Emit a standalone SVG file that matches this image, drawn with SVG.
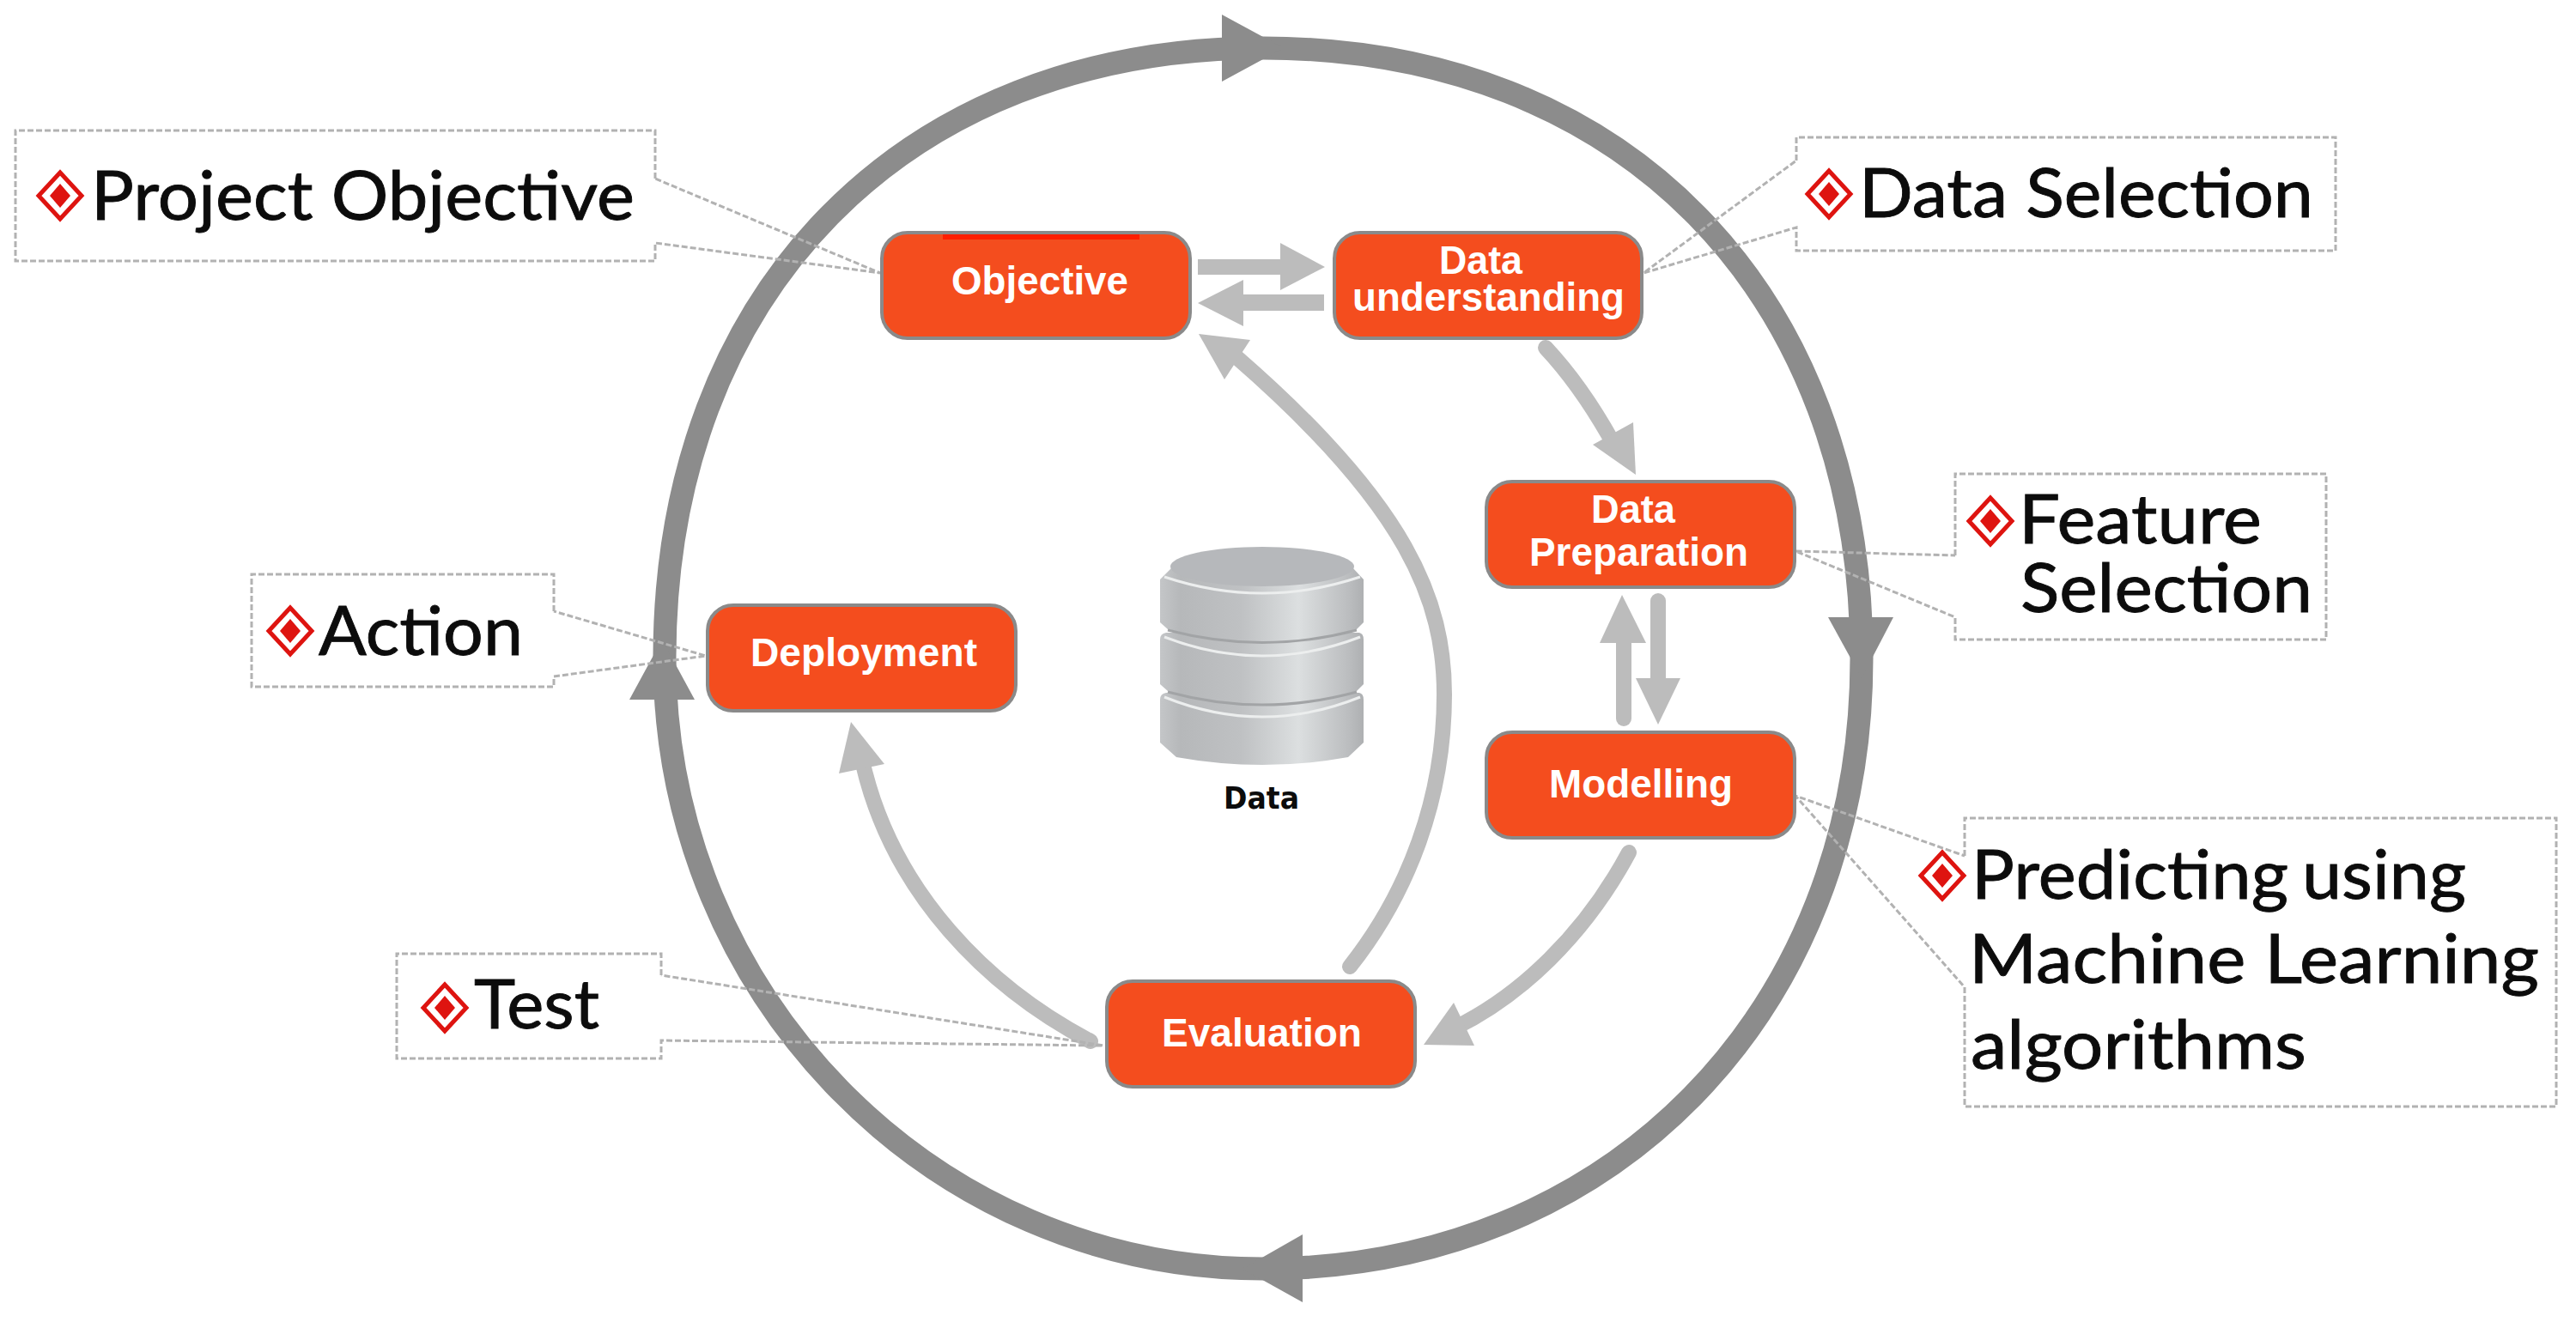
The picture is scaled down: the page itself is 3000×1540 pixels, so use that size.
<svg xmlns="http://www.w3.org/2000/svg" width="3000" height="1540" viewBox="0 0 3000 1540">
<style>
.ring{fill:none;stroke:#8c8c8c;stroke-width:27}
.ringhead{fill:#8c8c8c}
.flow{fill:none;stroke:#bcbcbc;stroke-width:18;stroke-linecap:round}
.flowhead{fill:#bcbcbc}
.lead{fill:none;stroke:#b2b2b2;stroke-width:3;stroke-dasharray:7 3}
.box{fill:#f44d1e;stroke:#8a8a8a;stroke-width:4}
.nl{font-family:"Liberation Sans",Arial,sans-serif;font-weight:700;font-size:47px;fill:#fff}
.cl{font-family:Lato,"Open Sans",sans-serif;font-size:80px;fill:#0c0c0c;stroke:#0c0c0c;stroke-width:.9}
.dt{font-family:"DejaVu Sans",Verdana,sans-serif;font-weight:700;font-size:35px;fill:#0c0c0c}
.band{fill:url(#cyl)}
.hi{fill:none;stroke:#eceeee;stroke-width:3}
.lo{fill:none;stroke:#a2a4a6;stroke-width:3}
</style>
<defs>
<linearGradient id="cyl" x1="0" x2="1" y1="0" y2="0">
<stop offset="0" stop-color="#c4c6c8"/><stop offset="0.1" stop-color="#b6b8ba"/><stop offset="0.4" stop-color="#bfc1c3"/><stop offset="0.68" stop-color="#dcdfe0"/><stop offset="0.92" stop-color="#bcbec0"/><stop offset="1" stop-color="#aeb0b2"/>
</linearGradient>
<g id="dia">
<polygon points="0,-27 25,0 0,27 -25,0" fill="#fff" stroke="#de1410" stroke-width="5"/>
<polygon points="0,-14 12,0 0,14 -12,0" fill="#de1410"/>
</g>
</defs>
<rect width="3000" height="1540" fill="#fff"/>

<g id="connectors">
<path class="ring" d="M1471,56 C1889,56 2168,340 2168,767 C2168,1179 1875,1478 1471,1478 C1086,1478 774,1160 774,767 C774,340 1053,56 1471,56 Z"/>
<polygon class="ringhead" points="1423,17 1495,56 1423,95"/>
<polygon class="ringhead" points="2129,719 2205,719 2168,790"/>
<polygon class="ringhead" points="1517,1438 1517,1517 1447,1478"/>
<polygon class="ringhead" points="733,815 809,815 771,745"/>

<polygon class="flowhead" points="1395,302 1491,302 1491,283 1543,311 1491,338 1491,320 1395,320"/>
<polygon class="flowhead" points="1542,343 1448,343 1448,326 1395,353 1448,380 1448,362 1542,362"/>
<path class="flow" d="M1800,405 Q1842,450 1878,515"/>
<polygon class="flowhead" points="1905,553 1902,492 1855,518"/>
<path class="flow" d="M1891,837 L1891,745"/>
<polygon class="flowhead" points="1889,693 1917,749 1863,749"/>
<path class="flow" d="M1931,700 L1931,795"/>
<polygon class="flowhead" points="1931,844 1905,790 1957,790"/>
<path class="flow" d="M1897,993 C1845,1090 1770,1160 1695,1197"/>
<polygon class="flowhead" points="1658,1217 1693,1168 1717,1218"/>
<path class="flow" d="M1572,1126 C1640,1040 1682,930 1682,809 C1682,700 1640,590 1440,416"/>
<polygon class="flowhead" points="1396,389 1456,396 1426,442"/>
<path class="flow" d="M1270,1213 C1150,1150 1040,1040 1005,890"/>
<polygon class="flowhead" points="991,841 1030,890 977,901"/>

<path class="lead" d="M763,208 V152 H18 V304 H763 V283 L1025,318 L763,208"/>
<path class="lead" d="M2092,187 V160 H2720 V292 H2092 V265 L1914,318 L2092,187"/>
<path class="lead" d="M2277,647 V552 H2709 V745 H2277 V719 L2091,642 L2277,647"/>
<path class="lead" d="M2288,997 V953 H2977 V1289 H2288 V1150 L2091,927 L2288,997"/>
<path class="lead" d="M645,712 V669 H293 V800 H645 V788 L822,764 L645,712"/>
<path class="lead" d="M770,1136 V1111 H462 V1233 H770 V1212 L1285,1218 L770,1136"/>
</g>

<g id="objective">
<rect class="box" x="1027" y="271" width="359" height="123" rx="30"/>
<rect x="1098" y="273" width="229" height="6" fill="#ff1e00"/>
<text class="nl" x="1108" y="343" textLength="206" lengthAdjust="spacingAndGlyphs">Objective</text>
</g>
<g id="data-understanding">
<rect class="box" x="1554" y="271" width="358" height="123" rx="30"/>
<text class="nl" x="1676" y="319" textLength="97" lengthAdjust="spacingAndGlyphs">Data</text>
<text class="nl" x="1575" y="362" textLength="317" lengthAdjust="spacingAndGlyphs">understanding</text>
</g>
<g id="data-preparation">
<rect class="box" x="1731" y="561" width="359" height="123" rx="30"/>
<text class="nl" x="1853" y="609" textLength="98" lengthAdjust="spacingAndGlyphs">Data</text>
<text class="nl" x="1781" y="659" textLength="255" lengthAdjust="spacingAndGlyphs">Preparation</text>
</g>
<g id="modelling">
<rect class="box" x="1731" y="853" width="359" height="123" rx="30"/>
<text class="nl" x="1804" y="929" textLength="214" lengthAdjust="spacingAndGlyphs">Modelling</text>
</g>
<g id="evaluation">
<rect class="box" x="1289" y="1143" width="359" height="123" rx="30"/>
<text class="nl" x="1353" y="1219" textLength="233" lengthAdjust="spacingAndGlyphs">Evaluation</text>
</g>
<g id="deployment">
<rect class="box" x="824" y="705" width="359" height="123" rx="30"/>
<text class="nl" x="874" y="776" textLength="264" lengthAdjust="spacingAndGlyphs">Deployment</text>
</g>

<g id="data">
<path class="band" d="M1351,815 Q1351,808 1358,807 L1583,807 Q1588,808 1588,815 V865 L1570,882 Q1470,900 1370,882 L1351,865 Z"/>
<path class="hi" d="M1356,812 Q1470,858 1584,812"/>
<path class="band" d="M1351,745 Q1351,738 1358,737 L1583,737 Q1588,738 1588,745 V797 L1580,805 Q1470,835 1360,805 L1351,797 Z"/>
<path class="lo" d="M1360,806 Q1470,836 1580,806"/>
<path class="hi" d="M1356,742 Q1470,786 1584,742"/>
<path class="band" d="M1351,675 L1366,660 H1574 L1588,675 V725 L1580,733 Q1470,762 1360,733 L1351,725 Z"/>
<path class="lo" d="M1360,734 Q1470,763 1580,734"/>
<path class="hi" d="M1356,672 Q1470,710 1584,672"/>
<ellipse cx="1470" cy="660" rx="107" ry="23" fill="#b6b8bb"/>
<text class="dt" x="1425" y="942" textLength="88" lengthAdjust="spacingAndGlyphs">Data</text>
</g>

<g id="callout-project-objective">
<use href="#dia" x="70" y="228"/>
<text class="cl" x="106" y="256" textLength="633" lengthAdjust="spacingAndGlyphs">Project Objective</text>
</g>
<g id="callout-data-selection">
<use href="#dia" x="2130" y="226"/>
<text class="cl" x="2165" y="253" textLength="529" lengthAdjust="spacingAndGlyphs">Data Selection</text>
</g>
<g id="callout-feature-selection">
<use href="#dia" x="2318" y="607"/>
<text class="cl" x="2351" y="633" textLength="283" lengthAdjust="spacingAndGlyphs">Feature</text>
<text class="cl" x="2353" y="713" textLength="340" lengthAdjust="spacingAndGlyphs">Selection</text>
</g>
<g id="callout-predicting">
<use href="#dia" x="2262" y="1020"/>
<text class="cl" x="2296" y="1047" textLength="369" lengthAdjust="spacingAndGlyphs">Predicting</text>
<text class="cl" x="2681" y="1047" textLength="191" lengthAdjust="spacingAndGlyphs">using</text>
<text class="cl" x="2293" y="1145" textLength="664" lengthAdjust="spacingAndGlyphs">Machine Learning</text>
<text class="cl" x="2295" y="1245" textLength="391" lengthAdjust="spacingAndGlyphs">algorithms</text>
</g>
<g id="callout-action">
<use href="#dia" x="338" y="735"/>
<text class="cl" x="371" y="763" textLength="238" lengthAdjust="spacingAndGlyphs">Action</text>
</g>
<g id="callout-test">
<use href="#dia" x="518" y="1174"/>
<text class="cl" x="552" y="1198" textLength="146" lengthAdjust="spacingAndGlyphs">Test</text>
</g>
</svg>
